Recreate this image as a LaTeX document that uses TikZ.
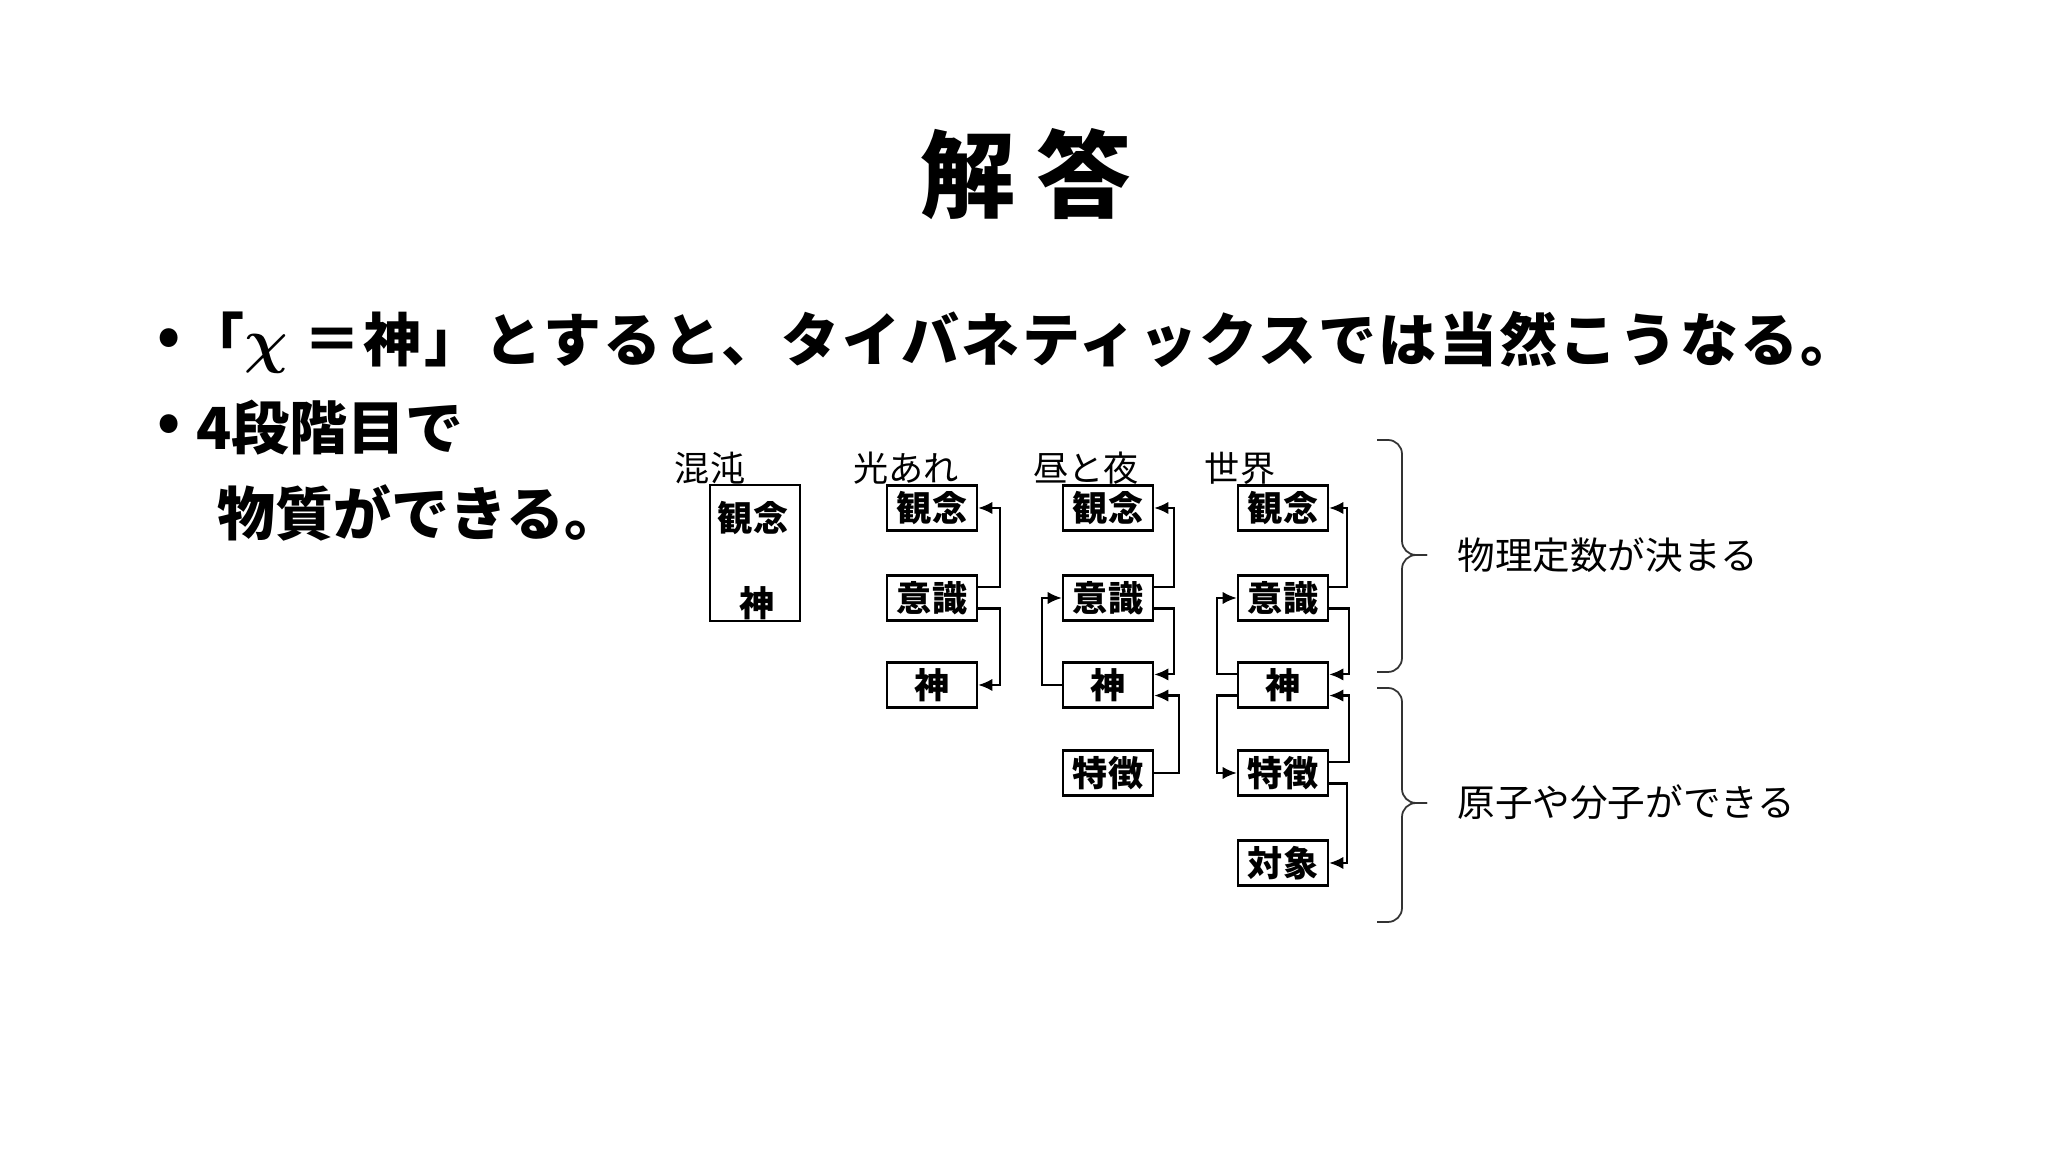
\documentclass[tikz,border=0pt]{standalone}
\usepackage{fontspec}
\usepackage{bm}
\setmainfont{Noto Sans CJK JP}
\usetikzlibrary{arrows.meta}

\tikzset{
	box/.style={draw, line width=0.7pt, minimum width=0.9cm, minimum height=0.45cm, inner sep=0pt, font=\bfseries\fontsize{10}{10}\selectfont},
	stage/.style={font=\fontsize{10}{10}\selectfont},
	conn/.style={line width=0.6pt, -{Latex[length=4pt, width=3.5pt]}},
	curly/.style={line width=0.5pt, black!80, rounded corners=4pt},
	note/.style={anchor=west, font=\fontsize{10.7}{10.7}\selectfont},
	bodytext/.style={anchor=west, font=\bfseries\fontsize{16.5}{16.5}\selectfont}
}

\begin{document}
\begin{tikzpicture}
	\useasboundingbox (0, 0) rectangle (20.48, 11.52);

	% title and bullets
	\node[font=\bfseries\fontsize{27}{27}\selectfont] (title) at (10.26, 9.78) {解\ 答};
	\node[bodytext] (bul1) at (1.45, 8.10) {•};
	\node[bodytext] (line1) at (1.74, 8.10) {\addfontfeatures{LetterSpace=4}「$\bm{\chi}$ ＝神」とすると、タイバネティックスでは当然こうなる。};
	\node[bodytext] (bul2) at (1.45, 7.24) {•};
	\node[bodytext] (line2) at (1.84, 7.24) {4段階目で};
	\node[bodytext] (line3) at (2.05, 6.39) {物質ができる。};

	% stage labels
	\node[stage] (chaoslabel) at (7.10, 6.84) {混沌};
	\node[stage] (lightlabel) at (9.06, 6.84) {光あれ};
	\node[stage] (daylabel) at (10.86, 6.84) {昼と夜};
	\node[stage] (worldlabel) at (12.40, 6.84) {世界};

	% chaos
	\node[box, minimum height=1.36cm] (chaos) at (7.55, 5.99) {};
	\node[box, draw=none] (kannen1) at (7.53, 6.34) {観念};
	\node[box, draw=none] (kami1) at (7.57, 5.49) {神};

	% light
	\node[box] (kannen2) at (9.32, 6.44) {観念};
	\node[box] (ishiki2) at (9.32, 5.54) {意識};
	\node[box] (kami2) at (9.32, 4.67) {神};

	\draw[conn] ([yshift=3pt]ishiki2.east) -- ++(0.22, 0) |- (kannen2.east);
	\draw[conn] ([yshift=-3pt]ishiki2.east) -- ++(0.22, 0) |- (kami2.east);

	% day and night
	\node[box] (kannen3) at (11.08, 6.44) {観念};
	\node[box] (ishiki3) at (11.08, 5.54) {意識};
	\node[box] (kami3) at (11.08, 4.67) {神};
	\node[box] (tokucho3) at (11.08, 3.79) {特徴};

	\draw[conn] ([yshift=3pt]ishiki3.east) -- ++(0.2, 0) |- (kannen3.east);
	\draw[conn] ([yshift=-3pt]ishiki3.east) -- ++(0.2, 0) |- ([yshift=3pt]kami3.east);
	\draw[conn] (kami3.west) -- ++(-0.2, 0) |- (ishiki3.west);
	\draw[conn] (tokucho3.east) -- ++(0.25, 0) |- ([yshift=-3pt]kami3.east);

	% world
	\node[box] (kannen4) at (12.83, 6.44) {観念};
	\node[box] (ishiki4) at (12.83, 5.54) {意識};
	\node[box] (kami4) at (12.83, 4.67) {神};
	\node[box] (tokucho4) at (12.83, 3.79) {特徴};
	\node[box] (taisho4) at (12.83, 2.89) {対象};

	\draw[conn] ([yshift=3pt]ishiki4.east) -- ++(0.18, 0) |- (kannen4.east);
	\draw[conn] ([yshift=-3pt]ishiki4.east) -- ++(0.2, 0) |- ([yshift=3pt]kami4.east);
	\draw[conn] ([yshift=3pt]kami4.west) -- ++(-0.2, 0) |- (ishiki4.west);
	\draw[conn] ([yshift=-3pt]kami4.west) -- ++(-0.2, 0) |- (tokucho4.west);
	\draw[conn] ([yshift=3pt]tokucho4.east) -- ++(0.2, 0) |- ([yshift=-3pt]kami4.east);
	\draw[conn] ([yshift=-3pt]tokucho4.east) -- ++(0.18, 0) |- (taisho4.east);

	% braces
	\coordinate (top1) at (13.77, 7.12);
	\coordinate (tip1) at (14.27, 5.97);
	\coordinate (bot1) at (13.77, 4.80);
	\coordinate (top2) at (13.77, 4.64);
	\coordinate (tip2) at (14.27, 3.49);
	\coordinate (bot2) at (13.77, 2.30);
	\draw[curly] (top1) -- (14.02, 7.12) -- (14.02, 5.97) -- (tip1);
	\draw[curly] (bot1) -- (14.02, 4.80) -- (14.02, 5.97) -- (tip1);
	\draw[curly] (top2) -- (14.02, 4.64) -- (14.02, 3.49) -- (tip2);
	\draw[curly] (bot2) -- (14.02, 2.30) -- (14.02, 3.49) -- (tip2);
	\node[note] (consts) at (14.45, 5.97) {物理定数が決まる};
	\node[note] (atoms) at (14.45, 3.50) {原子や分子ができる};
\end{tikzpicture}
\end{document}
